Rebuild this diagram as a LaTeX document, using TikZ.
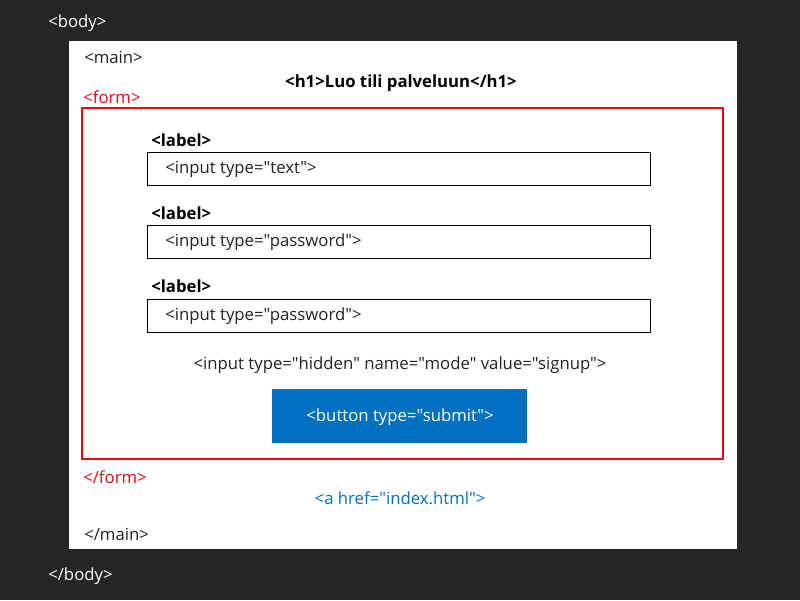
\documentclass[tikz,border=0pt]{standalone}
\usepackage{fontspec}
\setmainfont{Open Sans}[Ligatures=TeXOff]
\usetikzlibrary{positioning}
\definecolor{bgdark}{HTML}{262626}
\definecolor{formred}{HTML}{E00A14}
\definecolor{btnblue}{HTML}{0070C0}
\definecolor{txtdark}{HTML}{222222}
\tikzset{
  tag/.style = {anchor=west, inner sep=0pt, text=txtdark, font=\fontsize{11.9}{13}\selectfont},
  boldtag/.style = {tag, font=\fontsize{11.9}{13}\selectfont\bfseries, text=black},
  inputbox/.style = {draw=black, line width=0.7pt, minimum width=12.55cm, minimum height=0.825cm, inner sep=0pt},
  button/.style = {fill=btnblue, minimum width=6.35cm, minimum height=1.35cm, inner sep=0pt}
}
\begin{document}
\begin{tikzpicture}[x=0.025cm, y=-0.025cm]
% page and boxes
\fill[bgdark] (0,0) rectangle (800,600);
\fill[white] (69,41) rectangle (737,549);
\draw[formred, line width=1.1pt] (82,108) rectangle (723,459);

\node[tag, text=white] (body) at (48,23) {<body>};
\node[tag] (main) at (84,57) {<main>};
\node[boldtag, anchor=center] (h1) at (401,83) {<h1>Luo tili palveluun</h1>};
\node[tag, text=formred] (form) at (83,97) {<form>};

% fields
\node[inputbox] (inp1) at (399,168.5) {};
\node[inputbox] (inp2) at (399,242) {};
\node[inputbox] (inp3) at (399,315.5) {};
\node[boldtag] (lbl1) at (151,140) {<label>};
\node[boldtag] (lbl2) at (151,213) {<label>};
\node[boldtag] (lbl3) at (151,286) {<label>};
\node[tag] (txt1) at (165,169.5) {<input type="text">};
\node[tag] (txt2) at (165,242.5) {<input type="password">};
\node[tag] (txt3) at (165,316.5) {<input type="password">};

\node[tag, anchor=center] (hidden) at (400,365.5) {<input type="hidden" name="mode" value="signup">};
\node[button] (submit) at (399.5,416) {};
\node[tag, anchor=center, text=white] (submittxt) at (400,417.5) {<button type="submit">};

\node[tag, text=formred] (endform) at (83,477) {</form>};
\node[tag, anchor=center, text=btnblue] (link) at (400,498.5) {<a href="index.html">};
\node[tag] (endmain) at (84,534) {</main>};
\node[tag, text=white] (endbody) at (48,576) {</body>};
\end{tikzpicture}
\end{document}
